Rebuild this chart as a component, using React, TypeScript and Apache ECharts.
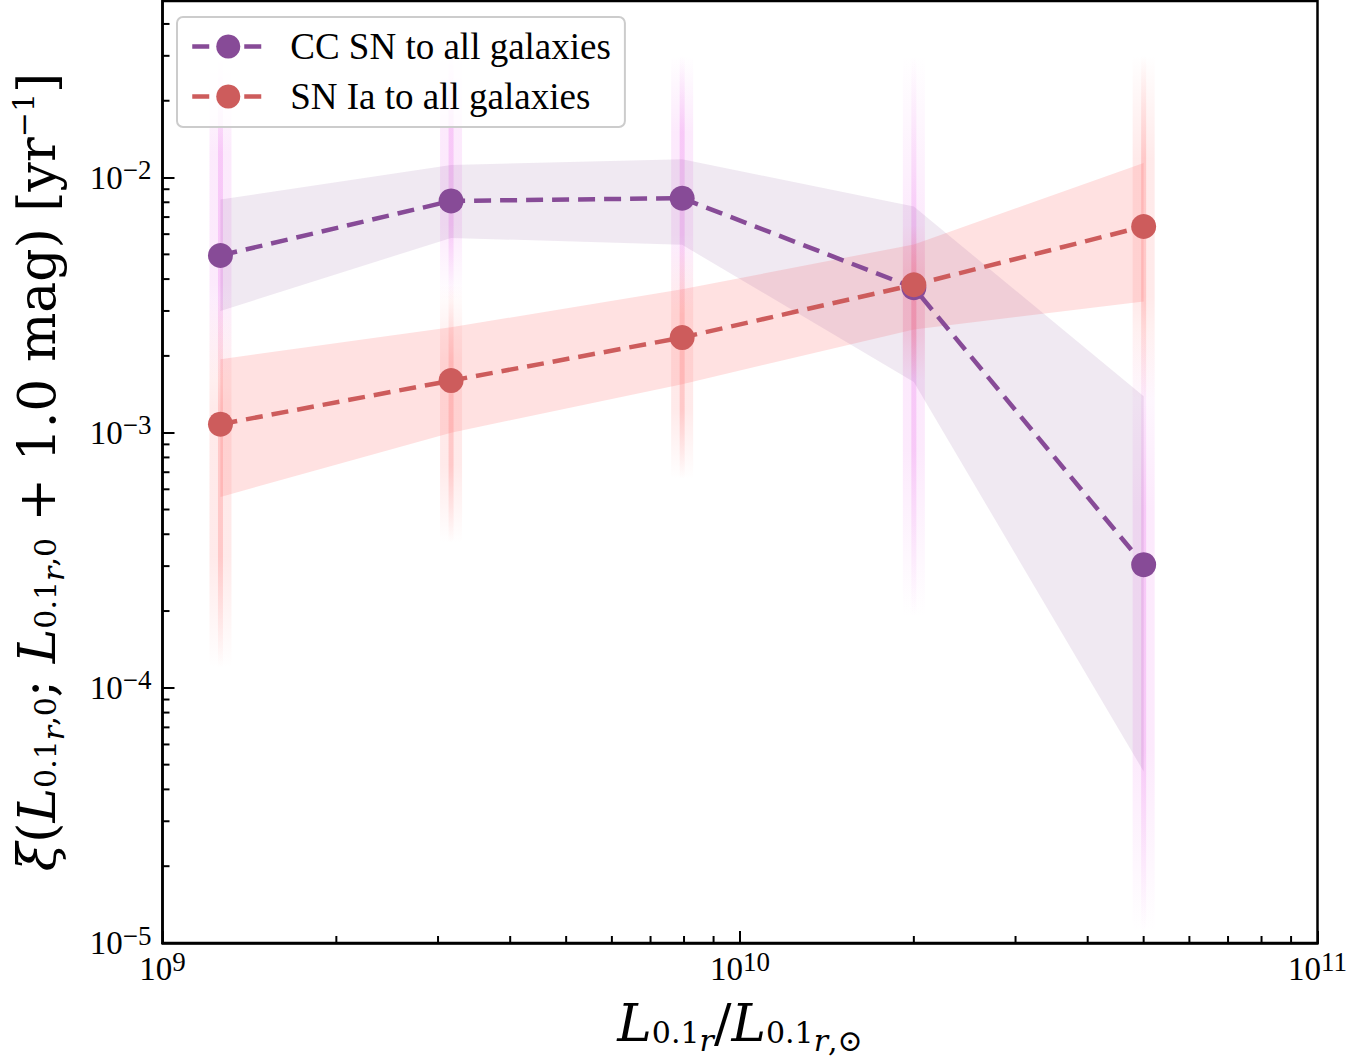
import React, { useEffect, useRef } from "react";
import * as echarts from "echarts";

const FONT = '"Liberation Serif", "DejaVu Serif", serif';
const NAME_FONT = '"DejaVu Serif", "Liberation Serif", serif';

// x: galaxy luminosity bin centres (L_sun)
const luminosity = [1.26e9, 3.16e9, 7.94e9, 2.0e10, 5.0e10];

// CC SN rate per galaxy (yr^-1) with shaded confidence band
const ccRate = [4.95e-3, 8.1e-3, 8.3e-3, 3.7e-3, 3.04e-4];
const ccLower = [3.0e-3, 5.8e-3, 5.45e-3, 1.58e-3, 4.7e-5];
const ccUpper = [8.2e-3, 1.12e-2, 1.18e-2, 7.7e-3, 1.39e-3];

// SN Ia rate per galaxy (yr^-1) with shaded confidence band
const iaRate = [1.08e-3, 1.6e-3, 2.36e-3, 3.8e-3, 6.43e-3];
const iaLower = [5.6e-4, 1.0e-3, 1.55e-3, 2.54e-3, 3.27e-3];
const iaUpper = [1.94e-3, 2.59e-3, 3.65e-3, 5.47e-3, 1.14e-2];

// extent of the faint vertical sample streaks
const ccSpreadLow = [1.6e-3, 3.3e-3, 3.0e-3, 1.9e-4, 1.1e-5];
const ccSpreadHigh = [3.0e-2, 3.2e-2, 3.0e-2, 3.0e-2, 2.6e-3];
const iaSpreadLow = [1.2e-4, 3.7e-4, 6.6e-4, 1.6e-3, 1.35e-3];
const iaSpreadHigh = [3.4e-3, 3.8e-3, 5.5e-3, 6.5e-3, 3.0e-2];

// axes
const xMin = 1e9;
const xMax = 1e11;
const yMin = 1e-5;
const yMax = 0.0492;
const xTickExps = [9, 10, 11];
const yTickExps = [-5, -4, -3, -2];
const xMinorTicks = [2e9, 3e9, 4e9, 5e9, 6e9, 7e9, 8e9, 9e9, 2e10, 3e10, 4e10, 5e10, 6e10, 7e10, 8e10, 9e10];
const yMinorTicks = [
  2e-5, 3e-5, 4e-5, 5e-5, 6e-5, 7e-5, 8e-5, 9e-5,
  2e-4, 3e-4, 4e-4, 5e-4, 6e-4, 7e-4, 8e-4, 9e-4,
  2e-3, 3e-3, 4e-3, 5e-3, 6e-3, 7e-3, 8e-3, 9e-3,
  2e-2, 3e-2, 4e-2,
];

const seriesNames = ["CC SN to all galaxies", "SN Ia to all galaxies"];
const CC_COLOR = "#874b97";
const IA_COLOR = "#cd5c5c";

const tickRich = {
  b: { fontFamily: FONT, fontSize: 33, lineHeight: 40, color: "#000" },
  s: { fontFamily: FONT, fontSize: 27, height: 25, verticalAlign: "top", color: "#000" },
};

function expLabel(exps: number[]) {
  return (v: number) => {
    const lg = Math.log10(v);
    const e = Math.round(lg);
    if (Math.abs(lg - e) > 1e-6 || exps.indexOf(e) < 0) return "";
    const t = e < 0 ? "\u2212" + -e : String(e);
    return `{b|10}{s|${t}}`;
  };
}

const nameRich = {
  m: { fontFamily: NAME_FONT, fontSize: 52, lineHeight: 68, color: "#000" },
  L: { fontFamily: NAME_FONT, fontSize: 52, fontStyle: "italic", lineHeight: 68, color: "#000" },
  s: { fontFamily: NAME_FONT, fontSize: 30, height: 50, verticalAlign: "bottom", color: "#000" },
  r: { fontFamily: NAME_FONT, fontSize: 30, fontStyle: "italic", height: 34, verticalAlign: "bottom", color: "#000" },
  rr: { fontFamily: NAME_FONT, fontSize: 30, height: 34, verticalAlign: "bottom", color: "#000" },
  sup: { fontFamily: NAME_FONT, fontSize: 30, height: 41, verticalAlign: "top", color: "#000" },
};

const xName = "{L|L}{s|0.1}{r|r}{m|/}{L|L}{s|0.1}{r|r}{rr|,\u2299}";
const yName =
  "{L|\u03be}{m|(}{L|L}{s|0.1}{r|r}{s|,0}{m|; }{L|L}{s|0.1}{r|r}{s|,0}{m| + 1.0 mag) [yr}{sup|\u22121}{m|]}";

function gradient(rgb: string, a: number) {
  return new echarts.graphic.LinearGradient(0, 0, 0, 1, [
    { offset: 0, color: `rgba(${rgb},0)` },
    { offset: 0.3, color: `rgba(${rgb},${a})` },
    { offset: 0.7, color: `rgba(${rgb},${a})` },
    { offset: 1, color: `rgba(${rgb},0)` },
  ]);
}

function streakSeries(name: string, lo: number[], hi: number[], rgb: string, z: number) {
  return {
    type: "custom",
    name,
    silent: true,
    z,
    data: luminosity.map((x, i) => [x, lo[i], hi[i]]),
    encode: { x: 0, y: [1, 2] },
    renderItem: (params: any, api: any) => {
      const x = api.value(0);
      const top = api.coord([x, api.value(2)]);
      const bot = api.coord([x, api.value(1)]);
      const h = bot[1] - top[1];
      return {
        type: "group",
        children: [
          { type: "rect", shape: { x: top[0] - 11, y: top[1], width: 22, height: h }, style: { fill: gradient(rgb, 0.17) } },
          { type: "rect", shape: { x: top[0] - 2.5, y: top[1], width: 5, height: h }, style: { fill: gradient(rgb, 0.32) } },
        ],
      };
    },
  };
}

function bandSeries(name: string, lo: number[], hi: number[], fill: string, z: number) {
  return {
    type: "custom",
    name,
    silent: true,
    z,
    data: luminosity.map((x, i) => [x, lo[i], hi[i]]),
    encode: { x: 0, y: [1, 2] },
    renderItem: (params: any, api: any) => {
      if (params.dataIndex !== 0) return null;
      const upper = luminosity.map((x, i) => api.coord([x, hi[i]]));
      const lower = luminosity.map((x, i) => api.coord([x, lo[i]])).reverse();
      return { type: "polygon", shape: { points: upper.concat(lower) }, style: { fill } };
    },
  };
}

function lineSeries(name: string, vals: number[], color: string, z: number) {
  return {
    type: "line",
    name,
    z,
    data: luminosity.map((x, i) => [x, vals[i]]),
    symbol: "circle",
    symbolSize: 25,
    showSymbol: true,
    itemStyle: { color },
    lineStyle: { color, width: 4.5, type: [17, 9] },
  };
}

const option: any = {
  animation: false,
  backgroundColor: "#fff",
  grid: {
    left: 158,
    right: 28,
    top: 1,
    bottom: 115,
    show: true,
    borderColor: "#000",
    borderWidth: 2.5,
    backgroundColor: "transparent",
  },
  legend: {
    data: seriesNames,
    orient: "vertical",
    left: 177,
    top: 17,
    itemWidth: 72,
    itemHeight: 30,
    itemGap: 13,
    padding: [11, 14, 12, 13],
    backgroundColor: "rgba(255,255,255,0.8)",
    borderColor: "#cccccc",
    borderWidth: 2,
    borderRadius: 6,
    lineStyle: { width: 4.5, type: [17, 9] },
    textStyle: { fontFamily: FONT, fontSize: 37, color: "#000", padding: [0, 0, 0, 21] },
  },
  xAxis: {
    type: "log",
    logBase: 10,
    min: xMin,
    max: xMax,
    splitLine: { show: false },
    axisLine: { lineStyle: { color: "#000", width: 2.5 } },
    axisTick: { inside: true, length: 12, lineStyle: { color: "#000", width: 2 } },
    axisLabel: { margin: 6, formatter: expLabel(xTickExps), rich: tickRich },
    name: xName,
    nameLocation: "middle",
    nameGap: 46,
    nameTextStyle: { rich: nameRich },
  },
  yAxis: {
    type: "log",
    logBase: 10,
    min: yMin,
    max: yMax,
    splitLine: { show: false },
    axisLine: { lineStyle: { color: "#000", width: 2.5 } },
    axisTick: { inside: true, length: 12, lineStyle: { color: "#000", width: 2 } },
    axisLabel: { margin: 11, formatter: expLabel(yTickExps), rich: tickRich },
    name: yName,
    nameLocation: "middle",
    nameGap: 92,
    nameTextStyle: { rich: nameRich },
  },
  series: [
    streakSeries("ccStreak", ccSpreadLow, ccSpreadHigh, "238,130,238", 1),
    streakSeries("iaStreak", iaSpreadLow, iaSpreadHigh, "255,130,130", 1),
    bandSeries("iaBand", iaLower, iaUpper, "rgba(255,127,127,0.23)", 2),
    bandSeries("ccBand", ccLower, ccUpper, "rgba(135,76,152,0.12)", 2),
    lineSeries(seriesNames[0], ccRate, CC_COLOR, 5),
    lineSeries(seriesNames[1], iaRate, IA_COLOR, 6),
    {
      type: "custom",
      name: "xMinor",
      silent: true,
      z: 8,
      data: xMinorTicks.map((v) => [v, yMin]),
      encode: { x: 0, y: 1 },
      renderItem: (params: any, api: any) => {
        const p = api.coord([api.value(0), api.value(1)]);
        return { type: "line", shape: { x1: p[0], y1: p[1], x2: p[0], y2: p[1] - 7 }, style: { stroke: "#000", lineWidth: 2 } };
      },
    },
    {
      type: "custom",
      name: "yMinor",
      silent: true,
      z: 8,
      data: yMinorTicks.map((v) => [xMin, v]),
      encode: { x: 0, y: 1 },
      renderItem: (params: any, api: any) => {
        const p = api.coord([api.value(0), api.value(1)]);
        return { type: "line", shape: { x1: p[0], y1: p[1], x2: p[0] + 7, y2: p[1] }, style: { stroke: "#000", lineWidth: 2 } };
      },
    },
  ],
};

export default function App() {
  const ref = useRef<HTMLDivElement>(null);
  useEffect(() => {
    const chart = echarts.init(ref.current!, null, { renderer: "svg" });
    chart.setOption(option);
    return () => chart.dispose();
  }, []);
  return (
    <div
      ref={ref}
      style={{ position: "fixed", left: 0, top: 0, width: 1350, height: 1060, background: "#fff" }}
    />
  );
}
